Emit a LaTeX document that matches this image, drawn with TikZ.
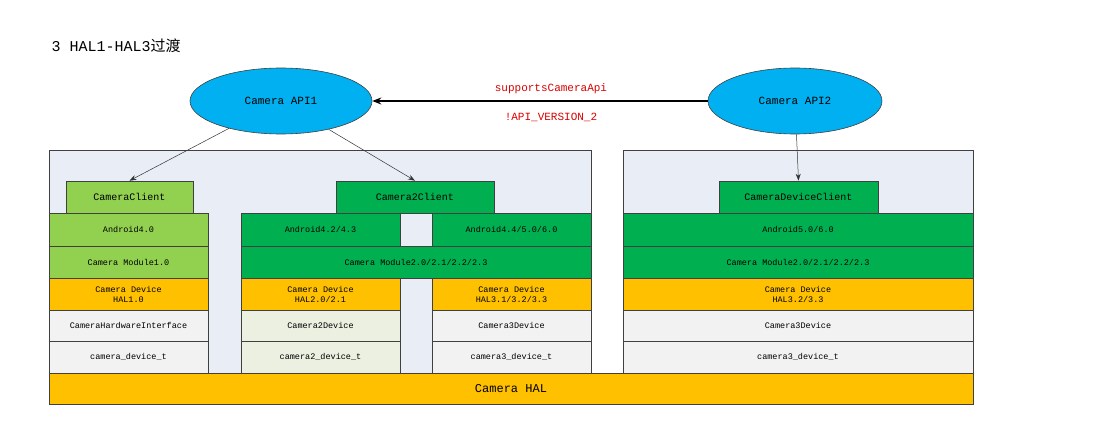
\documentclass[tikz,border=0pt]{standalone}
\usepackage{fontspec}
\setmainfont{Liberation Mono}
\newfontfamily\cjk{Noto Sans CJK SC}
\usetikzlibrary{shapes.geometric,arrows.meta}
\definecolor{lg}{HTML}{92D050}
\definecolor{dg}{HTML}{00B050}
\definecolor{og}{HTML}{FFC000}
\definecolor{gr}{HTML}{F2F2F2}
\definecolor{pg}{HTML}{EBF0E1}
\definecolor{bg}{HTML}{E9EDF6}
\definecolor{sky}{HTML}{00B0F0}
\newcommand\bx[7]{\node[box,fill=#6,minimum width=#4pt-#2pt,minimum height=#5pt-#3pt] (#1) at ({(#2pt+#4pt)/2},{-(#3pt+#5pt)/2}) {#7};}
\tikzset{
 box/.style={draw=black!75,line width=0.6pt,inner sep=0pt,align=center,font=\fontsize{8.5}{10}\selectfont},
 api/.style={ellipse,draw=black!75,fill=sky,line width=0.6pt,font=\fontsize{11}{12}\selectfont},
 arr/.style={-{Stealth[length=7pt,width=5pt]},line width=0.5pt,black!80},
 red/.style={text=red!85!black,font=\fontsize{11}{12}\selectfont}
}
\begin{document}
\begin{tikzpicture}[x=1pt,y=1pt]
\useasboundingbox[fill=white] (0,0) rectangle (1096,-433);
\node[anchor=west,font=\fontsize{15}{16}\selectfont] (title) at (48,-46) {3 HAL1-HAL3{\cjk 过渡}};
% panels
\bx{pl}{49}{150}{591}{373}{bg}{}
\bx{pr}{623}{150}{973}{373}{bg}{}
% left column
\bx{cc}{66}{181}{193}{213}{lg}{\fontsize{10}{12}\selectfont CameraClient}
\bx{a40}{49}{213}{208}{246}{lg}{Android4.0}
\bx{m10}{49}{246}{208}{278}{lg}{Camera Module1.0}
\bx{h10}{49}{278}{208}{310}{og}{Camera Device\\HAL1.0}
\bx{chi}{49}{310}{208}{341}{gr}{CameraHardwareInterface}
\bx{cd1}{49}{341}{208}{373}{gr}{camera\_device\_t}
% middle
\bx{c2c}{336}{181}{494}{213}{dg}{\fontsize{10}{12}\selectfont Camera2Client}
\bx{a42}{241}{213}{400}{246}{dg}{Android4.2/4.3}
\bx{a44}{432}{213}{591}{246}{dg}{Android4.4/5.0/6.0}
\bx{m2}{241}{246}{591}{278}{dg}{Camera Module2.0/2.1/2.2/2.3}
\bx{h20}{241}{278}{400}{310}{og}{Camera Device\\HAL2.0/2.1}
\bx{h31}{432}{278}{591}{310}{og}{Camera Device\\HAL3.1/3.2/3.3}
\bx{c2d}{241}{310}{400}{341}{pg}{Camera2Device}
\bx{cd2}{241}{341}{400}{373}{pg}{camera2\_device\_t}
\bx{c3d}{432}{310}{591}{341}{gr}{Camera3Device}
\bx{cd3}{432}{341}{591}{373}{gr}{camera3\_device\_t}
% right
\bx{cdc}{719}{181}{878}{213}{dg}{\fontsize{10}{12}\selectfont CameraDeviceClient}
\bx{a50}{623}{213}{973}{246}{dg}{Android5.0/6.0}
\bx{m2r}{623}{246}{973}{278}{dg}{Camera Module2.0/2.1/2.2/2.3}
\bx{h32}{623}{278}{973}{310}{og}{Camera Device\\HAL3.2/3.3}
\bx{c3r}{623}{310}{973}{341}{gr}{Camera3Device}
\bx{cd3r}{623}{341}{973}{373}{gr}{camera3\_device\_t}
% HAL
\bx{hal}{49}{373}{973}{404}{og}{}
\node[font=\fontsize{12}{14}\selectfont] (halt) at (511,-389) {Camera HAL};
% APIs
\node[api,minimum width=182pt,minimum height=66pt] (api1) at (281,-101) {Camera API1};
\node[api,minimum width=174pt,minimum height=66pt] (api2) at (795,-101) {Camera API2};
\draw[-{Stealth[length=9pt,width=7pt]},line width=1.6pt] (api2) -- (api1);
\node[red] (l1) at (551,-89) {supportsCameraApi};
\node[red] (l2) at (551,-117) {!API\_VERSION\_2};
\draw[arr] (api1) -- (cc.north);
\draw[arr] (api1) -- (c2c.north);
\draw[arr] (api2) -- (cdc.north);
\end{tikzpicture}
\end{document}
